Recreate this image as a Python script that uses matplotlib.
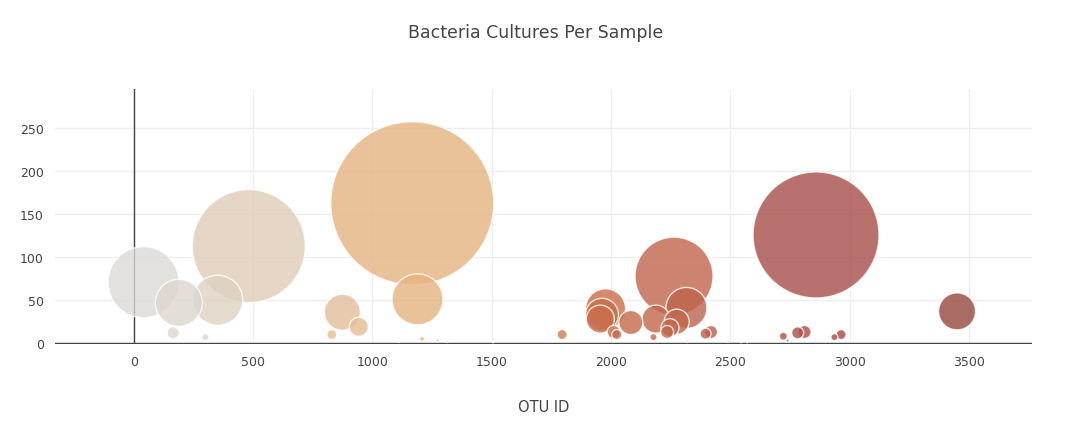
import matplotlib
matplotlib.use("Agg")
import matplotlib.pyplot as plt
from matplotlib.colors import LinearSegmentedColormap
import numpy as np

otu_ids = [41,165,189,300,352,482,830,874,943,1110,1167,1189,1208,1274,1314,1505,1795,1955,1962,1977,2011,2024,2083,2178,2188,2235,2247,2264,2275,2316,2320,2396,2419,2491,2546,2571,2722,2740,2782,2811,2859,2936,2964,3450]
sample_values = [71,12,47,7,50,113,10,36,19,2,163,51,5,3,2,1,10,28,33,40,13,10,24,7,28,13,18,78,25,41,2,11,13,2,1,1,8,3,12,13,126,7,10,37]

cmap = LinearSegmentedColormap.from_list("c", [
    (0.0, (0.86,0.86,0.86)),
    (0.14, (0.88,0.80,0.72)),
    (0.34, (0.90,0.70,0.50)),
    (0.57, (0.78,0.42,0.28)),
    (0.65, (0.75,0.40,0.30)),
    (0.82, (0.65,0.30,0.28)),
    (1.0, (0.58,0.28,0.25)),
])

fig = plt.figure(figsize=(10.72,4.27), dpi=100)
ax = fig.add_axes([55/1072, (427-345)/427, (1032-55)/1072, (345-90)/427])
x = np.array(otu_ids); v = np.array(sample_values)
order = np.argsort(-v)
ax.scatter(x[order], v[order], s=(0.72*v[order])**2, c=x[order], cmap=cmap, vmin=0, vmax=3500,
           alpha=0.8, edgecolors="white", linewidths=1, zorder=3, clip_on=True)
ax.set_xlim(-330, 3764)
ax.set_ylim(-1, 296)
ax.set_xticks(range(0,3501,500))
ax.set_yticks(range(0,251,50))
ax.grid(True, color="#eeeeee", linewidth=1, zorder=0)
ax.axvline(0, color="#444444", linewidth=1, zorder=2)
ax.axhline(0, color="#444444", linewidth=1, zorder=2)
for s in ax.spines.values():
    s.set_visible(False)
ax.tick_params(length=0, labelsize=9, colors="#444444", pad=8)
ax.set_xlabel("OTU ID", fontsize=10.5, color="#444444", labelpad=22)
fig.text(0.5, 1-33/427, "Bacteria Cultures Per Sample", ha="center", va="center", fontsize=12.5, color="#444444")
fig.savefig("out.png", dpi=100)
